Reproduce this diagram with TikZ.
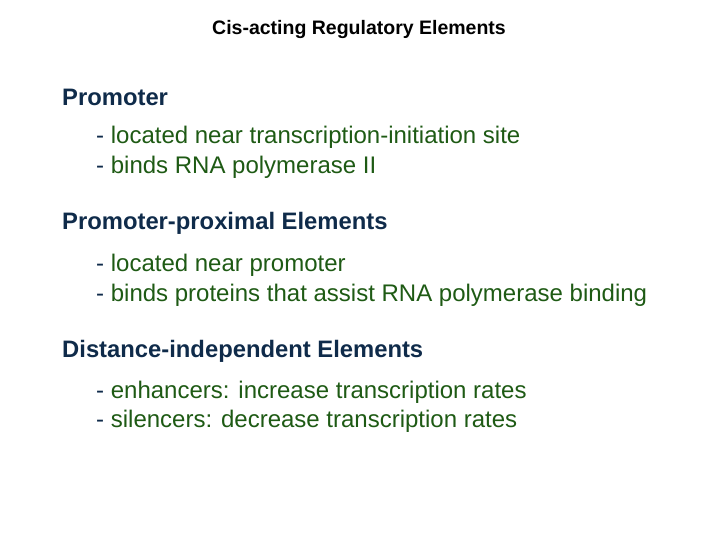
\documentclass[tikz,border=0pt]{standalone}
\usepackage{fontspec}
\setmainfont{Liberation Sans}
\usetikzlibrary{positioning}
\definecolor{headcol}{RGB}{15,43,74}
\definecolor{itemcol}{RGB}{30,90,20}
\tikzset{heading/.style={anchor=west, inner sep=0pt, text=headcol, font=\fontsize{23.8bp}{28bp}\selectfont\bfseries},
  item/.style={anchor=west, inner sep=0pt, text=itemcol, font=\fontsize{24bp}{28bp}\selectfont}}
\newcommand{\dashitem}[1]{\textcolor{headcol}{-} #1}
\begin{document}
\begin{tikzpicture}[x=1bp,y=-1bp]
\useasboundingbox (0,0) rectangle (720,540);
\node (title) at (359,30) [font=\fontsize{19.5bp}{22bp}\selectfont\bfseries] {Cis-acting Regulatory Elements};
%%
\node (promoter) at (62,97) [heading] {Promoter};
\node (p_1) at (96,137) [item] {\dashitem{located near transcription-initiation site}};
\node (p_2) at (96,167) [item] {\dashitem{binds RNA polymerase II}};
%%
\node (proximal) at (62,223) [heading] {Promoter-proximal Elements};
\node (q_1) at (96,265) [item] {\dashitem{located near promoter}};
\node (q_2) at (96,295) [item] {\dashitem{binds proteins that assist RNA polymerase binding}};
%%
\node (distance) at (62,351) [heading] {Distance-independent Elements};
\node (d_1) at (96,392) [item] {\dashitem{enhancers: increase transcription rates}};
\node (d_2) at (96,421) [item] {\dashitem{silencers: decrease transcription rates}};
%
\end{tikzpicture}
\end{document}
